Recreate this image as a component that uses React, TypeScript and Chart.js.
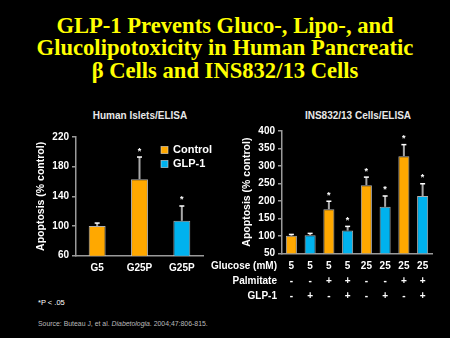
import React, { useEffect, useRef } from 'react';
import { Chart, registerables } from 'chart.js';

Chart.register(...registerables);

const TITLE_LINES = [
  'GLP-1 Prevents Gluco-, Lipo-, and',
  'Glucolipotoxicity in Human Pancreatic',
  'β Cells and INS832/13 Cells',
];

// Left panel: Human Islets/ELISA
const leftCategories = ['G5', 'G25P', 'G25P'];
const leftControl = [100, 163, null];
const leftGlp1 = [null, null, 107];
const leftErrors = [4, 30, 20];
const leftSig = [false, true, true];
const leftTicks = [60, 100, 140, 180, 220];

// Right panel: INS832/13 Cells/ELISA
const rightGlucose = ['5', '5', '5', '5', '25', '25', '25', '25'];
const rightPalmitate = ['-', '-', '+', '+', '-', '-', '+', '+'];
const rightGlp1 = ['-', '+', '-', '+', '-', '+', '-', '+'];
const rightValues = [100, 102, 176, 115, 245, 183, 328, 214];
const rightErrors = [4, 5, 23, 12, 23, 31, 33, 35];
const rightSig = [false, false, true, true, true, true, true, true];
const rightTicks = [50, 100, 150, 200, 250, 300, 350, 400];
const rowLabels = ['Glucose (mM)', 'Palmitate', 'GLP-1'];

const ORANGE = '#FFA800';
const BLUE = '#00B2EE';
const SANS = 'Arial, "Liberation Sans", sans-serif';

function errorPlugin(errors: number[], sig: boolean[]) {
  return {
    id: 'errorBars',
    afterDatasetsDraw(chart: any) {
      const ctx = chart.ctx;
      const y = chart.scales.y;
      chart.data.datasets.forEach((ds: any, di: number) => {
        const meta = chart.getDatasetMeta(di);
        meta.data.forEach((el: any, i: number) => {
          const v = ds.data[i];
          if (v === null || v === undefined) return;
          const top = y.getPixelForValue(v);
          const errTop = y.getPixelForValue(v + errors[i]);
          ctx.save();
          ctx.strokeStyle = '#A8A8A8';
          ctx.lineWidth = 2;
          ctx.beginPath();
          ctx.moveTo(el.x, top);
          ctx.lineTo(el.x, errTop);
          ctx.stroke();
          ctx.strokeStyle = '#FFFFFF';
          ctx.lineWidth = 1.5;
          ctx.beginPath();
          ctx.moveTo(el.x - 2.5, errTop);
          ctx.lineTo(el.x + 2.5, errTop);
          ctx.stroke();
          if (sig[i]) {
            ctx.fillStyle = '#FFFFFF';
            ctx.font = `bold 9px ${SANS}`;
            ctx.textAlign = 'center';
            ctx.textBaseline = 'middle';
            ctx.fillText('*', el.x, errTop - 6);
          }
          ctx.restore();
        });
      });
    },
  };
}

const legendPlugin = {
  id: 'insideLegend',
  afterDraw(chart: any) {
    const ctx = chart.ctx;
    chart.data.datasets.forEach((ds: any, i: number) => {
      const x = 161;
      const yc = 50 + i * 14;
      ctx.save();
      ctx.fillStyle = ds.backgroundColor;
      ctx.fillRect(x, yc - 3.5, 7, 7);
      ctx.strokeStyle = 'rgba(230,230,230,0.7)';
      ctx.lineWidth = 0.8;
      ctx.strokeRect(x, yc - 3.5, 7, 7);
      ctx.fillStyle = '#FFFFFF';
      ctx.font = `bold 11px ${SANS}`;
      ctx.textAlign = 'left';
      ctx.textBaseline = 'middle';
      ctx.fillText(ds.label, x + 12, yc);
      ctx.restore();
    });
  },
};

const rowLabelPlugin = {
  id: 'rowLabels',
  afterDraw(chart: any) {
    const ctx = chart.ctx;
    const area = chart.chartArea;
    ctx.save();
    ctx.fillStyle = '#FFFFFF';
    ctx.font = `bold 10px ${SANS}`;
    ctx.textAlign = 'right';
    ctx.textBaseline = 'middle';
    rowLabels.forEach((t, i) => {
      ctx.fillText(t, area.left - 5, area.bottom + 12.5 + i * 15);
    });
    ctx.restore();
  },
};

function yAxis(min: number, max: number, ticks: number[]) {
  return {
    min,
    max,
    afterBuildTicks: (s: any) => {
      s.ticks = ticks.map((v) => ({ value: v }));
    },
    afterFit: (s: any) => {
      s.width = 45;
    },
    ticks: { color: '#FFFFFF', font: { family: SANS, size: 10, weight: 'bold' }, padding: 3 },
    grid: { drawOnChartArea: false, drawTicks: true, tickLength: 4, color: '#9A9A9A', lineWidth: 1.5 },
    border: { color: '#9A9A9A', width: 1.5 },
    title: {
      display: true,
      text: 'Apoptosis (% control)',
      color: '#FFFFFF',
      font: { family: SANS, size: 10.5, weight: 'bold' },
      padding: { top: 4, bottom: 0 },
    },
  };
}

export default function App() {
  const leftRef = useRef<HTMLCanvasElement>(null);
  const rightRef = useRef<HTMLCanvasElement>(null);

  useEffect(() => {
    const left = new Chart(leftRef.current as HTMLCanvasElement, {
      type: 'bar',
      data: {
        labels: leftCategories,
        datasets: [
          {
            label: 'Control',
            data: leftControl,
            backgroundColor: ORANGE,
            borderColor: 'rgba(235,235,235,0.75)',
            borderWidth: 1,
            grouped: false,
            barPercentage: 0.4,
            categoryPercentage: 1,
          } as any,
          {
            label: 'GLP-1',
            data: leftGlp1,
            backgroundColor: BLUE,
            borderColor: 'rgba(235,235,235,0.75)',
            borderWidth: 1,
            grouped: false,
            barPercentage: 0.4,
            categoryPercentage: 1,
          } as any,
        ],
      },
      options: {
        responsive: false,
        maintainAspectRatio: false,
        animation: false,
        layout: { padding: { left: 31, right: 22, top: 37, bottom: 0 } },
        plugins: { legend: { display: false }, tooltip: { enabled: false } },
        scales: {
          x: {
            afterFit: (s: any) => {
              s.height = 34.3;
            },
            ticks: { color: '#FFFFFF', font: { family: SANS, size: 10, weight: 'bold' }, padding: 7 },
            grid: { drawOnChartArea: false, drawTicks: false },
            border: { color: '#9A9A9A', width: 1.5 },
          },
          y: yAxis(60, 220, leftTicks) as any,
        },
      },
      plugins: [errorPlugin(leftErrors, leftSig), legendPlugin],
    });

    const right = new Chart(rightRef.current as HTMLCanvasElement, {
      type: 'bar',
      data: {
        labels: rightGlucose.map((g, i) => [g, rightPalmitate[i], rightGlp1[i]]),
        datasets: [
          {
            label: 'Apoptosis',
            data: rightValues,
            backgroundColor: rightGlp1.map((g) => (g === '+' ? BLUE : ORANGE)),
            borderColor: 'rgba(235,235,235,0.75)',
            borderWidth: 1,
            barPercentage: 0.59,
            categoryPercentage: 1,
          },
        ],
      },
      options: {
        responsive: false,
        maintainAspectRatio: false,
        animation: false,
        layout: { padding: { left: 42, right: 18, top: 31, bottom: 0 } },
        plugins: { legend: { display: false }, tooltip: { enabled: false } },
        scales: {
          x: {
            afterFit: (s: any) => {
              s.height = 56.7;
            },
            ticks: {
              color: '#FFFFFF',
              font: { family: SANS, size: 10, weight: 'bold', lineHeight: 1.5 },
              padding: 5,
              maxRotation: 0,
              autoSkip: false,
            },
            grid: { drawOnChartArea: false, drawTicks: false },
            border: { color: '#9A9A9A', width: 1.5 },
          },
          y: yAxis(50, 400, rightTicks) as any,
        },
      },
      plugins: [errorPlugin(rightErrors, rightSig), rowLabelPlugin],
    });

    return () => {
      left.destroy();
      right.destroy();
    };
  }, []);

  return (
    <div
      style={{
        position: 'fixed',
        left: 0,
        top: 0,
        width: 450,
        height: 338,
        background: '#000000',
        overflow: 'hidden',
      }}
    >
      <div
        style={{
          position: 'absolute',
          left: 0,
          top: 15,
          width: 450,
          textAlign: 'center',
          color: '#FFFF00',
          fontFamily: '"Liberation Serif", "Times New Roman", serif',
          fontWeight: 'bold',
          fontSize: 22.6,
          lineHeight: '22.3px',
        }}
      >
        {TITLE_LINES.map((l, i) => (
          <div key={i}>{l}</div>
        ))}
      </div>
      <div
        style={{
          position: 'absolute',
          left: 140,
          top: 115,
          transform: 'translate(-50%, -50%)',
          whiteSpace: 'nowrap',
          color: '#E8E8E8',
          fontFamily: SANS,
          fontWeight: 'bold',
          fontSize: 10,
        }}
      >
        Human Islets/ELISA
      </div>
      <div
        style={{
          position: 'absolute',
          left: 358,
          top: 115,
          transform: 'translate(-50%, -50%)',
          whiteSpace: 'nowrap',
          color: '#E8E8E8',
          fontFamily: SANS,
          fontWeight: 'bold',
          fontSize: 10,
        }}
      >
        INS832/13 Cells/ELISA
      </div>
      <canvas
        ref={leftRef}
        width={225}
        height={190}
        style={{ position: 'absolute', left: 0, top: 100, width: 225, height: 190 }}
      />
      <canvas
        ref={rightRef}
        width={255}
        height={210}
        style={{ position: 'absolute', left: 195, top: 100, width: 255, height: 210 }}
      />
      <div
        style={{
          position: 'absolute',
          left: 38,
          top: 302,
          transform: 'translateY(-50%)',
          whiteSpace: 'nowrap',
          color: '#FFFFFF',
          fontFamily: SANS,
          fontSize: 7.5,
        }}
      >
        *P &lt; .05
      </div>
      <div
        style={{
          position: 'absolute',
          left: 38,
          top: 323,
          transform: 'translateY(-50%)',
          whiteSpace: 'nowrap',
          color: '#BBBBBB',
          fontFamily: SANS,
          fontSize: 6.9,
        }}
      >
        Source: Buteau J, et al. <i>Diabetologia</i>. 2004;47:806-815.
      </div>
    </div>
  );
}
